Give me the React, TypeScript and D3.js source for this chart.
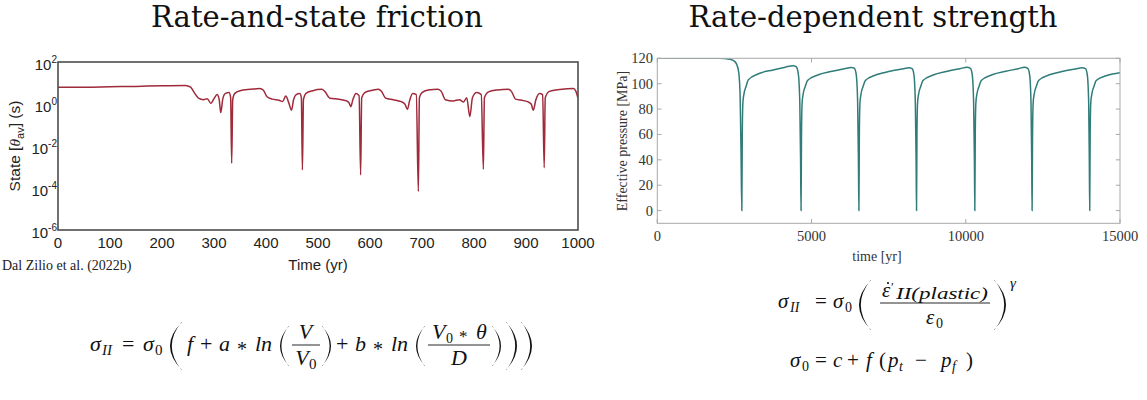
import React from "react";
import * as d3 from "d3";

// ---------- Left chart: rate-and-state state variable ----------
const stateYears = [0, 50, 100, 150, 200, 245, 255, 262, 270, 280, 287, 294, 300, 306, 310, 313, 317, 322, 329, 332, 334, 336, 340, 350, 370, 388, 395, 402, 412, 425, 432, 438, 444, 449, 453, 458, 465, 468, 470, 472, 477, 490, 507, 513, 523, 540, 555, 560, 563, 567, 573, 579, 582, 584, 590, 600, 616, 622, 630, 645, 660, 667, 672, 676, 682, 689, 693, 695, 700, 712, 731, 737, 745, 760, 772, 780, 786, 792, 797, 805, 814, 818, 820, 828, 845, 866, 872, 880, 895, 904, 910, 914, 919, 926, 932, 935, 937, 945, 965, 991, 996, 1000];
const stateSeconds = [6.3, 6.3, 6.6, 6.9, 7.4, 7.6, 6.3, 3.5, 1.9, 1.6, 1.8, 1.07, 1.8, 2.8, 1.6, 0.39, 1.8, 3.2, 3.5, 2.0, 0.0015, 1.6, 3.2, 4.3, 5.0, 5.5, 4.5, 2.2, 1.7, 1.5, 1.3, 2.4, 1.1, 0.51, 1.6, 2.8, 3.2, 2.0, 0.00072, 1.6, 3.2, 4.3, 5.0, 4.0, 1.9, 1.7, 1.4, 1.1, 0.74, 1.6, 3.2, 2.5, 0.00042, 2.0, 3.5, 4.3, 5.1, 4.0, 1.9, 1.6, 1.3, 1.0, 0.56, 1.4, 3.2, 2.8, 0.000068, 2.0, 3.5, 4.6, 5.1, 4.0, 1.6, 1.4, 1.6, 1.26, 2.0, 0.25, 2.0, 3.5, 2.8, 0.00079, 2.0, 3.8, 4.7, 5.1, 4.0, 1.7, 1.45, 1.26, 1.0, 0.51, 1.6, 3.2, 2.8, 0.00093, 2.0, 4.0, 4.9, 5.5, 4.0, 1.9];
const leftXTicks = [0, 100, 200, 300, 400, 500, 600, 700, 800, 900, 1000];
const leftYExponents = [2, 0, -2, -4, -6];

// ---------- Right chart: effective pressure ----------
const pressureYears = [
  0, 1000, 2000, 2356, 2517, 2625, 2679, 2715, 2740,
  2755, 2775, 2810, 2880, 2950, 3300, 3750, 4150, 4400, 4500, 4570, 4620, 4645, 4660,
  4675, 4695, 4730, 4800, 4870, 5220, 5670, 6070, 6290, 6390, 6450, 6495, 6520, 6535,
  6550, 6570, 6605, 6675, 6745, 7095, 7545, 7945, 8160, 8260, 8320, 8365, 8390, 8403,
  8418, 8438, 8473, 8543, 8613, 8963, 9413, 9813, 10040, 10150, 10210, 10255, 10280, 10293,
  10308, 10328, 10363, 10433, 10503, 10853, 11303, 11703, 11900, 12010, 12070, 12115, 12138, 12150,
  12165, 12185, 12220, 12290, 12360, 12710, 13160, 13560, 13770, 13880, 13940, 13985, 14005, 14018,
  14033, 14053, 14088, 14158, 14228, 14578, 15000,
];
const pressureMPa = [
  120, 120, 120, 119.2, 117.4, 111, 95, 45, 0,
  60, 85, 92, 98, 103, 108, 110.8, 113, 114.2, 113.4, 108, 85, 40, 0,
  60, 85, 92, 98, 102.5, 107, 109.8, 111.8, 112.8, 112, 107, 85, 40, 0,
  60, 85, 92, 98, 102.5, 107, 109.8, 111.6, 112.6, 111.8, 107, 85, 40, 0,
  60, 85, 92, 98, 102.5, 107, 109.8, 111.8, 112.9, 112, 107, 85, 40, 0,
  60, 85, 92, 98, 102.5, 107, 109.8, 111.8, 112.9, 112, 107, 85, 40, 0,
  60, 85, 92, 98, 102.5, 107, 109.8, 111.6, 112.6, 111.8, 107, 85, 40, 0,
  60, 85, 92, 98, 102.5, 106.5, 108.7,
];
const rightXTicks = [0, 5000, 10000, 15000];
const rightYTicks = [0, 20, 40, 60, 80, 100, 120];

const SANS = "'Liberation Sans', Arial, Helvetica, sans-serif";
const SERIF = "'Liberation Serif', 'Times New Roman', serif";
const TITLE = "'DejaVu Serif', Georgia, serif";

function paren(xl: number, xr: number, top: number, bottom: number, open: boolean, thick: number) {
  const mid = (top + bottom) / 2;
  if (open) {
    const c1 = 2 * xl - xr;
    const c2 = 2 * (xl + thick) - xr;
    return `M${xr},${top} Q${c1},${mid} ${xr},${bottom} L${xr - 0.4},${bottom} Q${c2},${mid} ${xr - 0.4},${top} Z`;
  }
  const c1 = 2 * xr - xl;
  const c2 = 2 * (xr - thick) - xl;
  return `M${xl},${top} Q${c1},${mid} ${xl},${bottom} L${xl + 0.4},${bottom} Q${c2},${mid} ${xl + 0.4},${top} Z`;
}

export default function App() {
  const xL = d3.scaleLinear().domain([0, 1000]).range([58, 578]);
  const yL = d3.scaleLog().domain([1e-6, 1e2]).range([230, 62]);
  const xR = d3.scaleLinear().domain([0, 15000]).range([657.3, 1120]);
  const yR = d3.scaleLinear().domain([-10, 120]).range([223.3, 58.3]);

  const leftLine = d3
    .line<number>()
    .x((_, i) => xL(stateYears[i]))
    .y((d) => yL(d))
    .curve(d3.curveMonotoneX)(stateSeconds) as string;

  const rightLine = d3
    .line<number>()
    .x((_, i) => xR(pressureYears[i]))
    .y((d) => yR(d))
    .curve(d3.curveMonotoneX)(pressureMPa) as string;

  const it = { fontFamily: SERIF, fontStyle: "italic" as const };
  const rm = { fontFamily: SERIF };

  return (
    <svg
      width={1147}
      height={400}
      style={{ position: "absolute", left: 0, top: 0, display: "block", background: "#fff" }}
    >
      {/* Titles */}
      <text x={317} y={27} textAnchor="middle" fontFamily={TITLE} fontSize={29} fill="#111">
        Rate-and-state friction
      </text>
      <text x={873} y={27} textAnchor="middle" fontFamily={TITLE} fontSize={29} fill="#111">
        Rate-dependent strength
      </text>

      <defs>
        <clipPath id="clipL">
          <rect x={58} y={62} width={520} height={168} />
        </clipPath>
        <clipPath id="clipR">
          <rect x={657.3} y={58.3} width={462.7} height={165} />
        </clipPath>
      </defs>

      {/* ---------- Left chart ---------- */}
      <path d={leftLine} fill="none" stroke="#9e2a3a" strokeWidth={1.5} clipPath="url(#clipL)" />
      <rect x={58} y={62} width={520} height={168} fill="none" stroke="#4d4d4d" strokeWidth={1.6} />
      {leftXTicks.map((t) => (
        <text key={t} x={xL(t)} y={248} textAnchor="middle" fontFamily={SANS} fontSize={15} fill="#222">
          {t}
        </text>
      ))}
      {leftYExponents.map((e) => (
        <text key={e} x={57} y={yL(Math.pow(10, e)) + 8} textAnchor="end" fontFamily={SANS} fontSize={15} fill="#222">
          10
          <tspan dy={-7} fontSize={10}>
            {e}
          </tspan>
        </text>
      ))}
      <text
        transform="translate(20,146) rotate(-90)"
        textAnchor="middle"
        fontFamily={SANS}
        fontSize={15.5}
        fill="#222"
      >
        State [<tspan fontStyle="italic" fontFamily={SERIF}>θ</tspan>
        <tspan fontSize={11} dy={4}>av</tspan>
        <tspan dy={-4}>] (s)</tspan>
      </text>
      <text x={318} y={270} textAnchor="middle" fontFamily={SANS} fontSize={15} fill="#222">
        Time (yr)
      </text>
      <text x={2} y={270} fontFamily={SERIF} fontSize={14} fill="#222">
        Dal Zilio et al. (2022b)
      </text>

      {/* ---------- Right chart ---------- */}
      <path d={rightLine} fill="none" stroke="#2f7c79" strokeWidth={1.5} clipPath="url(#clipR)" />
      <rect x={657.3} y={58.3} width={462.7} height={165} fill="none" stroke="#a8a8a8" strokeWidth={1} />
      {rightYTicks.map((t) => (
        <g key={t}>
          <line x1={657.3} x2={661.5} y1={yR(t)} y2={yR(t)} stroke="#a8a8a8" />
          <line x1={1115.8} x2={1120} y1={yR(t)} y2={yR(t)} stroke="#a8a8a8" />
          <text x={653} y={yR(t) + 5} textAnchor="end" fontFamily={SERIF} fontSize={14.5} fill="#333">
            {t}
          </text>
        </g>
      ))}
      {rightXTicks.map((t) => (
        <g key={t}>
          <line x1={xR(t)} x2={xR(t)} y1={223.3} y2={219} stroke="#a8a8a8" />
          <line x1={xR(t)} x2={xR(t)} y1={58.3} y2={62.5} stroke="#a8a8a8" />
          <text x={xR(t)} y={241} textAnchor="middle" fontFamily={SERIF} fontSize={14.5} fill="#333">
            {t}
          </text>
        </g>
      ))}
      <text x={877} y={261} textAnchor="middle" fontFamily={SERIF} fontSize={14} fill="#333">
        time [yr]
      </text>
      <text
        transform="translate(627,141) rotate(-90)"
        textAnchor="middle"
        fontFamily={SERIF}
        fontSize={14}
        fill="#333"
      >
        Effective pressure [MPa]
      </text>

      {/* ---------- Left equation ---------- */}
      <g fill="#111" fontSize={22}>
        <text x={90} y={351} {...it}>σ</text>
        <text x={102} y={355} {...it} fontSize={15}>II</text>
        <text x={122} y={351} {...rm}>=</text>
        <text x={143} y={351} {...it}>σ</text>
        <text x={155} y={355} {...rm} fontSize={15}>0</text>
        <path d={paren(170, 182, 322, 370, true, 2)} />
        <text x={187} y={351} {...it}>f</text>
        <text x={200} y={351} {...rm}>+</text>
        <text x={219} y={351} {...it}>a</text>
        <text x={237} y={356} {...rm} fontSize={20}>*</text>
        <text x={255} y={351} {...it}>ln</text>
        <path d={paren(280, 289, 326, 366, true, 1.6)} />
        <text x={305.5} y={339} textAnchor="middle" {...it}>V</text>
        <line x1={292} x2={320} y1={345} y2={345} stroke="#111" strokeWidth={0.9} />
        <text x={302} y={365} textAnchor="middle" {...it}>V</text>
        <text x={309} y={369} {...rm} fontSize={15}>0</text>
        <path d={paren(322, 331, 326, 366, false, 1.6)} />
        <text x={336} y={351} {...rm}>+</text>
        <text x={355} y={351} {...it}>b</text>
        <text x={373} y={356} {...rm} fontSize={20}>*</text>
        <text x={391} y={351} {...it}>ln</text>
        <path d={paren(416, 425, 326, 366, true, 1.6)} />
        <text x={432} y={339} {...it}>V</text>
        <text x={446} y={343} {...rm} fontSize={14}>0</text>
        <text x={459} y={342} {...rm} fontSize={17}>*</text>
        <text x={476} y={339} {...it}>θ</text>
        <line x1={428} x2={490} y1={345} y2={345} stroke="#111" strokeWidth={0.9} />
        <text x={459} y={365} textAnchor="middle" {...it}>D</text>
        <path d={paren(492, 501, 326, 366, false, 1.6)} />
        <path d={paren(506, 517, 322, 370, false, 2)} />
        <path d={paren(521, 532, 322, 370, false, 2)} />
      </g>

      {/* ---------- Right equations ---------- */}
      <g fill="#111" fontSize={21}>
        <text x={778} y={308} {...it}>σ</text>
        <text x={790} y={312} {...it} fontSize={14}>II</text>
        <text x={815} y={308} {...rm}>=</text>
        <text x={833} y={308} {...it}>σ</text>
        <text x={845} y={312} {...rm} fontSize={14}>0</text>
        <path d={paren(859, 871, 280, 330, true, 2)} />
        <text x={882} y={297} {...it}>ε</text>
        <circle cx={888} cy={283} r={1.1} />
        <text x={891} y={291} {...rm} fontSize={13}>′</text>
        <text x={896} y={299} {...it} fontSize={16} textLength={92} lengthAdjust="spacingAndGlyphs">
          II(plastic)
        </text>
        <line x1={880} x2={990} y1={303} y2={303} stroke="#111" strokeWidth={0.9} />
        <text x={926} y={324} {...it}>ε</text>
        <text x={936} y={328} {...rm} fontSize={14}>0</text>
        <path d={paren(994, 1006, 280, 330, false, 2)} />
        <text x={1010} y={288} {...it} fontSize={15}>γ</text>

        <text x={790} y={367} {...it}>σ</text>
        <text x={802} y={371} {...rm} fontSize={14}>0</text>
        <text x={815} y={367} {...rm}>=</text>
        <text x={833} y={367} {...it}>c</text>
        <text x={847} y={367} {...rm}>+</text>
        <text x={866} y={367} {...it}>f</text>
        <text x={879} y={367} {...rm}>(</text>
        <text x={888} y={367} {...it}>p</text>
        <text x={899} y={371} {...it} fontSize={14}>t</text>
        <text x={915} y={367} {...rm}>−</text>
        <text x={941} y={367} {...it}>p</text>
        <text x={952} y={371} {...it} fontSize={14}>f</text>
        <text x={966} y={367} {...rm}>)</text>
      </g>
    </svg>
  );
}
